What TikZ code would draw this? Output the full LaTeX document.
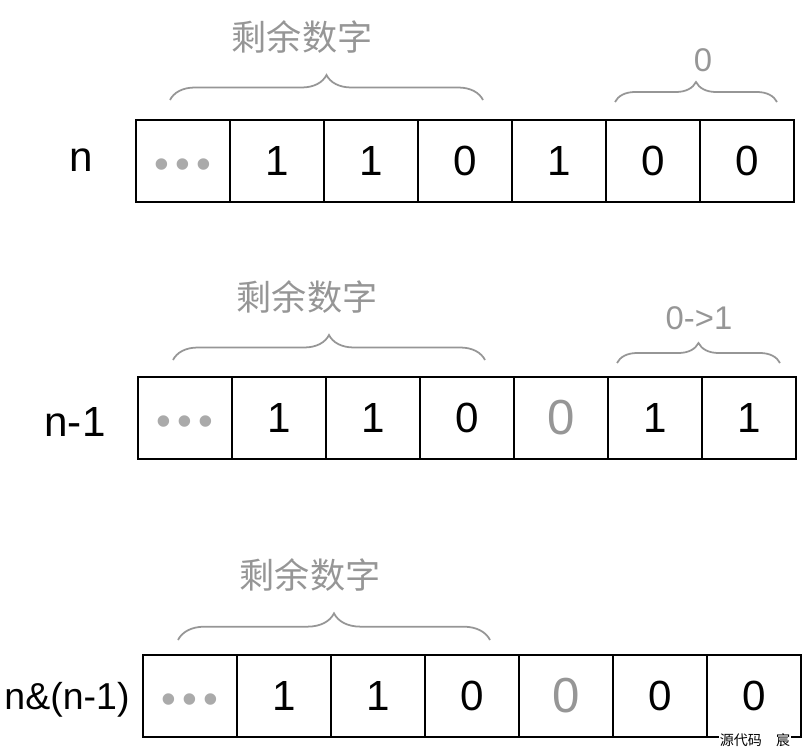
\documentclass[tikz,border=0pt]{standalone}
\usepackage{fontspec}
\setmainfont{Liberation Sans}
\newfontfamily\cjk{Noto Sans CJK SC}
\usetikzlibrary{decorations.pathreplacing}
\definecolor{pengray}{RGB}{150,150,150}
\definecolor{dotgray}{RGB}{170,170,170}
\newcommand{\threedots}{\raisebox{-15pt}[0pt][0pt]{\textbullet\hspace{5pt}\textbullet\hspace{5pt}\textbullet}}

\begin{document}
\begin{tikzpicture}[x=0.03cm,y=-0.03cm,
        cell/.style={draw,line width=2.4pt,minimum width=2.82cm,minimum height=2.46cm,inner sep=0pt,font=\fontsize{36}{36}\selectfont},
        dots/.style={cell,text=dotgray,font=\fontsize{36}{36}\selectfont},
        faded/.style={cell,text=pengray,font=\fontsize{42}{42}\selectfont},
        rowlabel/.style={font=\fontsize{36}{36}\selectfont},
        note/.style={text=pengray,font=\cjk\fontsize{30}{30}\selectfont},
        bits/.style={text=pengray,font=\fontsize{28}{28}\selectfont},
        brc/.style={draw=pengray,line width=1.5pt,decorate,decoration={brace,amplitude=#1}}]
        \useasboundingbox (0,0) rectangle (805,755);
        \node[rowlabel] (n) at (81,160) {n};
        \node[dots] (a1) at (183,161) {\threedots};
        \node[cell] (a2) at (277,161) {1};
        \node[cell] (a3) at (371,161) {1};
        \node[cell] (a4) at (465,161) {0};
        \node[cell] (a5) at (559,161) {1};
        \node[cell] (a6) at (653,161) {0};
        \node[cell] (a7) at (747,161) {0};
        \draw[brc=0.75cm] (170,100) -- (483,100);
        \draw[brc=0.6cm] (615,102) -- (777,102);
        \node[note] (resta) at (302,37) {剩余数字};
        \node[bits] (zero) at (703,60) {0};
        \node[rowlabel] (nm) at (75,422) {n-1};
        \node[dots] (b1) at (185,418) {\threedots};
        \node[cell] (b2) at (279,418) {1};
        \node[cell] (b3) at (373,418) {1};
        \node[cell] (b4) at (467,418) {0};
        \node[faded] (b5) at (561,418) {0};
        \node[cell] (b6) at (655,418) {1};
        \node[cell] (b7) at (749,418) {1};
        \draw[brc=0.75cm] (173,360) -- (485,360);
        \draw[brc=0.6cm] (617,363) -- (780,363);
        \node[note] (restb) at (307,297) {剩余数字};
        \node[bits] (flip) at (699,318) {0->1};
        \node[rowlabel,font=\fontsize{32}{32}\selectfont] (nand) at (67,700) {n\&(n-1)};
        \node[dots] (c1) at (190,696) {\threedots};
        \node[cell] (c2) at (284,696) {1};
        \node[cell] (c3) at (378,696) {1};
        \node[cell] (c4) at (472,696) {0};
        \node[faded] (c5) at (566,696) {0};
        \node[cell] (c6) at (660,696) {0};
        \node[cell] (c7) at (754,696) {0};
        \draw[brc=0.8cm] (178,640) -- (490,640);
        \node[note] (restc) at (310,575) {剩余数字};
        \node[fill=white,inner sep=1pt,font=\cjk\fontsize{12}{12}\selectfont] (mark) at (755,740) {源代码\quad 宸};
    \end{tikzpicture}
\end{document}
